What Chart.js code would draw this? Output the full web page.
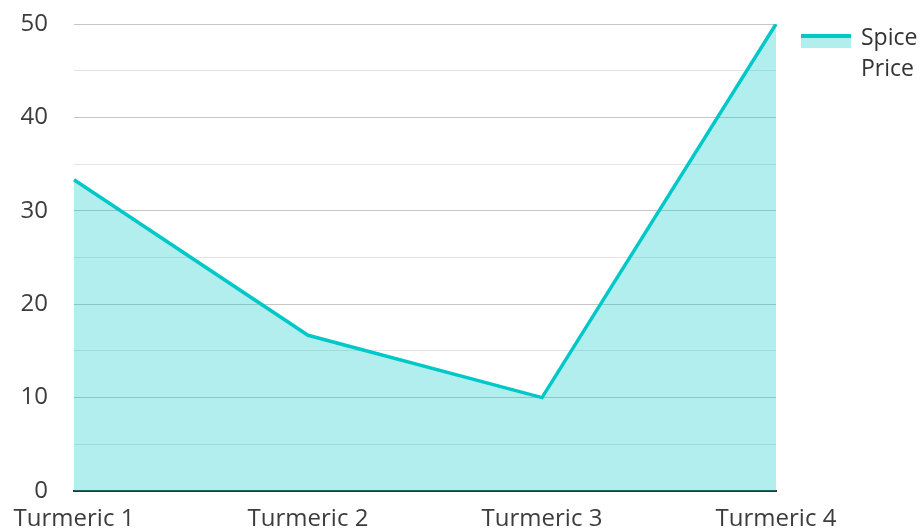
<!DOCTYPE html>
<html>
<head>
<meta charset="utf-8">
<script src="https://cdn.jsdelivr.net/npm/chart.js@4"></script>
<style>
  html, body { margin: 0; padding: 0; background: #fff; }
  #wrap { width: 923px; height: 531px; }
</style>
</head>
<body>
<div id="wrap"><canvas id="myChart"></canvas></div>
<script>
const categories = ["Turmeric 1", "Turmeric 2", "Turmeric 3", "Turmeric 4"];
const spicePrice = [33.33, 16.67, 10, 50];
const legendLines = ["Spice", "Price"];
const yMin = 0;
const yMax = 50;
const yStep = 5;
const yLabelStep = 10;

const lineColor = "rgb(0, 200, 200)";
const fillColor = "rgba(0, 200, 200, 0.3)";
const fontFamily = "'Open Sans', sans-serif";

Chart.defaults.font.family = fontFamily;
Chart.defaults.font.size = 24;
Chart.defaults.color = "#3c3c3c";

// simple legend on the right: line swatch over fill, label on two lines
const sideLegend = {
  id: "sideLegend",
  afterDraw: (chart) => {
    const c = chart.ctx;
    const x = chart.chartArea.right + 25;
    const y = 34;
    c.save();
    c.fillStyle = fillColor;
    c.fillRect(x, y, 50, 14);
    c.fillStyle = lineColor;
    c.fillRect(x, y, 50, 4);
    c.fillStyle = "#333";
    c.font = `23px ${fontFamily}`;
    c.textBaseline = "middle";
    c.textAlign = "left";
    legendLines.forEach((t, i) => c.fillText(t, x + 60, 38 + i * 31));
    c.restore();
  },
};

const ctx = document.getElementById("myChart");
const chart = new Chart(ctx, {
  type: "line",
  data: {
    labels: categories,
    datasets: [
      {
        label: legendLines.join(" "),
        data: spicePrice,
        borderColor: lineColor,
        backgroundColor: fillColor,
        borderWidth: 3.5,
        fill: "origin",
        pointRadius: 0,
        tension: 0,
      },
    ],
  },
  options: {
    responsive: true,
    maintainAspectRatio: false,
    animation: false,
    layout: {
      padding: { left: 0, top: 24, right: 147, bottom: 0 },
    },
    plugins: {
      legend: { display: false },
      tooltip: { enabled: false },
    },
    scales: {
      x: {
        offset: false,
        grid: { display: false, drawTicks: false },
        border: { display: true, color: "#333", width: 2 },
        ticks: { padding: 14, maxRotation: 0, autoSkip: false },
        afterFit: (scale) => {
          scale.height = 40;
          scale.paddingLeft = 0;
          scale.paddingRight = 0;
        },
      },
      y: {
        min: yMin,
        max: yMax,
        border: { display: false },
        grid: {
          drawTicks: false,
          color: (c) =>
            c.tick && c.tick.value % yLabelStep === 0 ? "#c6c6c6" : "#e4e4e4",
        },
        ticks: {
          stepSize: yStep,
          padding: 26,
          callback: (v) => (v % yLabelStep === 0 ? v : ""),
        },
        afterFit: (scale) => {
          scale.width = 74;
          scale.paddingTop = 0;
          scale.paddingBottom = 0;
        },
      },
    },
  },
  plugins: [sideLegend],
});
</script>
</body>
</html>
